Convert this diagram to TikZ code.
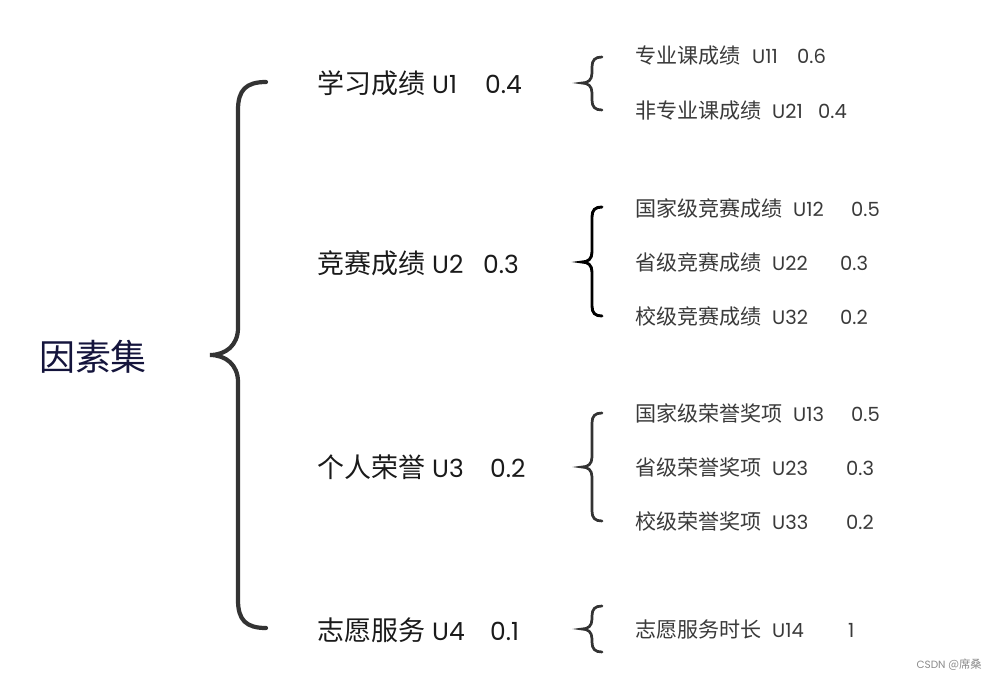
\documentclass[tikz,border=0pt]{standalone}
\usepackage{fontspec}
\setmainfont{Poppins}
\newfontfamily\cjk[Scale=1.08]{Noto Sans CJK SC}
\definecolor{brace}{HTML}{333333}
\definecolor{lvone}{HTML}{1A1A1A}
\definecolor{lvtwo}{HTML}{3A3A3A}
\definecolor{rootc}{HTML}{14143C}
\newcommand{\rowtxt}[5]{\makebox[#4pt][l]{{\cjk #1}}\makebox[#5pt][l]{#2}#3}
\newcommand{\smallbrace}[4]{%
  \draw[#4] (602,#1) .. controls (595,#1) and (592,#1+3) .. (592,#1+10)
    -- (592,#2-10) .. controls (592,#2-3) and (588,#2) .. (582,#2)
    .. controls (588,#2) and (592,#2+3) .. (592,#2+10)
    -- (592,#3-10) .. controls (592,#3-3) and (595,#3) .. (602,#3);}
\begin{document}
\begin{tikzpicture}[x=1pt,y=-1pt,
  lone/.style={anchor=west,inner sep=0pt,text=lvone,font=\fontsize{25}{30}\selectfont},
  ltwo/.style={anchor=west,inner sep=0pt,text=lvtwo,font=\fontsize{19.5}{24}\selectfont},
  bigbr/.style={draw=brace,line width=4.2pt,line cap=round},
  smbr/.style={draw=brace,line width=2.7pt,line cap=round},
  smbrk/.style={draw=black,line width=2.9pt,line cap=round}]
\useasboundingbox (0,0) rectangle (997,681);
\fill[white] (0,0) rectangle (997,681);
% root
\node[anchor=center,inner sep=0pt,text=rootc,font=\fontsize{33.3}{38}\selectfont\cjk] (root) at (93,357) {因素集};
% big brace
\draw[bigbr] (266,82) .. controls (246,82) and (238,90) .. (238,110)
  -- (238,328) .. controls (238,345) and (226,355) .. (210,355)
  .. controls (226,355) and (238,365) .. (238,382)
  -- (238,600) .. controls (238,620) and (246,628) .. (266,628);
% level 1
\node[lone] (a1) at (317,83) {\rowtxt{学习成绩}{U1}{0.4}{115}{53}};
\node[lone] (a2) at (317,263) {\rowtxt{竞赛成绩}{U2}{0.3}{115}{51}};
\node[lone] (a3) at (317,467) {\rowtxt{个人荣誉}{U3}{0.2}{115}{58}};
\node[lone] (a4) at (317,630) {\rowtxt{志愿服务}{U4}{0.1}{115}{58}};
% small braces
\smallbrace{57}{83}{110}{smbr}
\smallbrace{207}{262}{316}{smbrk}
\smallbrace{413}{467}{521}{smbr}
\smallbrace{606}{629}{652}{smbr}
% level 2
\node[ltwo] (b11) at (635,56) {\rowtxt{专业课成绩}{U11}{0.6}{117}{45}};
\node[ltwo] (b12) at (635,111) {\rowtxt{非专业课成绩}{U21}{0.4}{137}{46}};
\node[ltwo] (b21) at (635,208) {\rowtxt{国家级竞赛成绩}{U12}{0.5}{158}{58}};
\node[ltwo] (b22) at (635,262) {\rowtxt{省级竞赛成绩}{U22}{0.3}{137}{68}};
\node[ltwo] (b23) at (635,316) {\rowtxt{校级竞赛成绩}{U32}{0.2}{137}{68}};
\node[ltwo] (b31) at (635,413) {\rowtxt{国家级荣誉奖项}{U13}{0.5}{158}{58}};
\node[ltwo] (b32) at (635,467) {\rowtxt{省级荣誉奖项}{U23}{0.3}{137}{74}};
\node[ltwo] (b33) at (635,521) {\rowtxt{校级荣誉奖项}{U33}{0.2}{137}{74}};
\node[ltwo] (b41) at (635,630) {\rowtxt{志愿服务时长}{U14}{1}{137}{76}};
% watermark
\node[anchor=east,inner sep=0pt,text=black!45,font=\fontsize{10.5}{12}\selectfont] (wm) at (982,665) {CSDN {\cjk @席桑}};
\end{tikzpicture}
\end{document}
